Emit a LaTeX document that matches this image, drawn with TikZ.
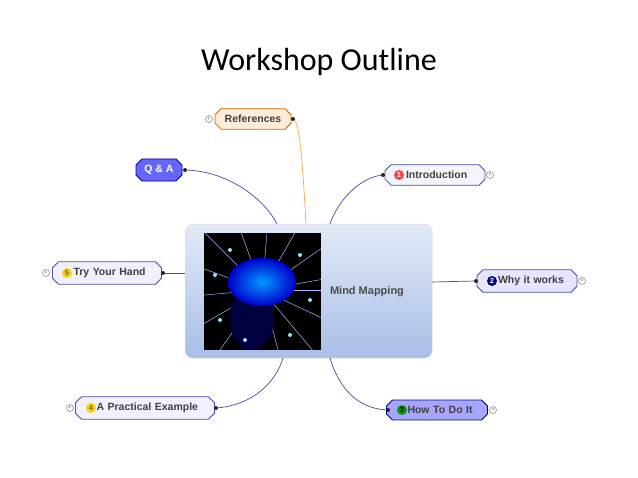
\documentclass[tikz,border=0pt]{standalone}
\usepackage{fontspec}
\setmainfont{Liberation Sans}
\newfontfamily\titlefont{Carlito}
\usetikzlibrary{shapes.misc}
\colorlet{cOr}{orange!80!black}
\colorlet{cBl}{blue!60!black}
\colorlet{cLb}{blue!45!black!70}
\colorlet{cLink}{blue!40!black!70}
\definecolor{cTop}{RGB}{226,234,248}
\definecolor{cBot}{RGB}{168,190,230}
\begin{document}
\begin{tikzpicture}[x=1pt,y=-1pt,
  topic/.style={chamfered rectangle, chamfered rectangle xsep=3pt, chamfered rectangle ysep=3pt, draw=#1, line width=0.8pt, font=\fontsize{10.5}{12}\selectfont\bfseries, text=black!75, inner xsep=3pt, minimum height=19pt, anchor=center},
  dotn/.style={circle, fill=black!85, inner sep=0pt, minimum size=4pt},
  plusn/.style={circle, draw=black!60, fill=white, inner sep=0pt, minimum size=7pt, font=\fontsize{6}{6}\selectfont, text=black!60},
  badge/.style={circle, fill=#1, inner sep=0pt, minimum size=10pt, font=\fontsize{7.5}{7.5}\selectfont\bfseries},
  link/.style={draw=#1, line width=0.7pt}]
\useasboundingbox (0,0) rectangle (638,478);
\fill[white] (0,0) rectangle (638,478);
\node[font=\titlefont\fontsize{32}{36}\selectfont] (title) at (319,62) {Workshop Outline};
% center
\node[draw=black!15, rounded corners=8pt, top color=cTop, bottom color=cBot, minimum width=247pt, minimum height=134pt, anchor=north west] (c) at (185,224) {};
\node[fill=black, minimum width=117pt, minimum height=117pt, inner sep=0pt, anchor=north west] (img) at (204,233) {};
\begin{scope}
\clip (204,233) rectangle (321,350);
\foreach \a in {0,25,...,359} \draw[blue!30!white, line width=0.5pt] (262,290) -- ++(\a:90);
\fill[black!75!blue] (252,318) ellipse (22pt and 32pt);
\shade[inner color=cyan!60!blue, outer color=blue!80!black] (262,282) ellipse (34pt and 24pt);
\foreach \p in {(230,250),(300,255),(310,300),(220,320),(290,335),(245,340),(215,275)} \fill[cyan!40!white] \p circle (2pt);
\end{scope}
\node[font=\fontsize{11}{13}\selectfont\bfseries, text=black!70] (mm) at (367,292) {Mind Mapping};
% topics
\node[topic=cOr, fill=orange!15, minimum width=76pt] (ref) at (253,119) {References};
\node[topic=cBl, fill=blue!60!white, text=white, minimum width=46pt] (qa) at (159,170) {Q \& A};
\node[topic=cLb, fill=blue!4, minimum width=98pt, text width=88pt, align=left] (intro) at (435,175) {\hspace{15pt}Introduction};
\node[topic=cLb, fill=blue!10, minimum width=98pt, text width=88pt, align=left] (why) at (527,281) {\hspace{15pt}Why it works};
\node[topic=cBl, fill=blue!35!white, minimum width=99pt, text width=89pt, align=left] (how) at (437,410) {\hspace{15pt}How To Do It};
\node[topic=cLb, fill=blue!6, minimum width=137pt, text width=127pt, align=left] (prac) at (145,408) {\hspace{15pt}A Practical Example};
\node[topic=cLb, fill=blue!6, minimum width=107pt, text width=97pt, align=left] (try) at (107,273) {\hspace{15pt}Try Your Hand};
% badges
\node[badge=red!75, text=white] (b1) at (399,175) {1};
\node[badge=blue!55!black, text=white] (b2) at (492,281) {2};
\node[badge=green!60!black, text=black] (b3) at (402,410) {3};
\node[badge=yellow!70!orange, text=black!60] (b4) at (91,408) {4};
\node[badge=yellow!70!orange, text=black!60] (b5) at (67,273) {5};
% plus signs
\node[plusn] (p1) at (209,119) {+};
\node[plusn] (p2) at (490,175) {+};
\node[plusn] (p3) at (582,281) {+};
\node[plusn] (p4) at (493,410) {+};
\node[plusn] (p5) at (70,408) {+};
\node[plusn] (p6) at (46,273) {+};
% dots
\node[dotn] (dref) at (293,119) {};
\node[dotn] (dqa) at (185,170) {};
\node[dotn] (dint) at (383,175) {};
\node[dotn] (dwhy) at (476,281) {};
\node[dotn] (dhow) at (388,410) {};
\node[dotn] (dpr) at (216,408) {};
\node[dotn] (dtry) at (163,273) {};
\coordinate (cref) at (306,224);
\coordinate (cqa) at (277,224);
\coordinate (cint) at (330,224);
\coordinate (cwhy) at (432,282);
\coordinate (chow) at (330,358);
\coordinate (cpr) at (283,358);
\coordinate (ctry) at (185,273);
\draw[link=orange!70] (dref) .. controls (300,125) and (303,170) .. (cref);
\draw[link=cLink] (dqa) .. controls (230,172) and (265,200) .. (cqa);
\draw[link=cLink] (dint) .. controls (360,178) and (338,200) .. (cint);
\draw[link=cLink] (dwhy) -- (cwhy);
\draw[link=cLink] (dhow) .. controls (355,408) and (338,385) .. (chow);
\draw[link=cLink] (dpr) .. controls (250,405) and (275,385) .. (cpr);
\draw[link=cLink] (dtry) -- (ctry);
\end{tikzpicture}
\end{document}
